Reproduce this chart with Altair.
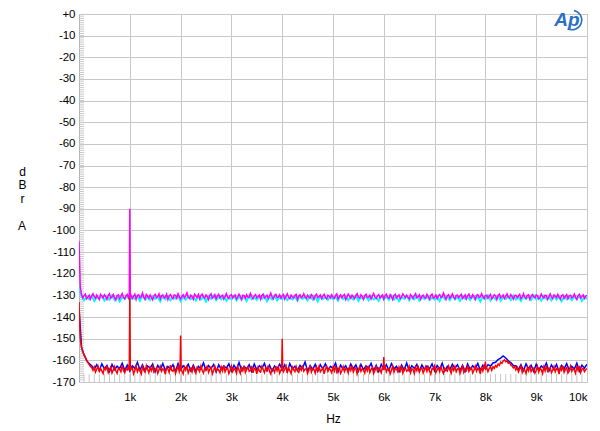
import altair as alt
import pandas as pd

# frequency grids (Hz): 25 Hz for the magenta/red traces, 50 Hz for cyan/blue
freqs_fine = list(range(0, 10001, 25))
freqs = list(range(0, 10001, 50))

magenta = [-105.0,
    -126.0, -129.6, -131.2, -130.1, -129.4, -131.5, -130.8, -129.9, -131.7, -130.3, -129.2, -130.6, -131.4, -129.8, -130.9, -131.9, -129.5, -130.2, -131.1, -129.7,
    -130.5, -131.8, -130.0, -129.3, -131.3, -130.7, -129.6, -131.0, -132.1, -130.2, -129.8, -131.5, -130.4, -129.1, -130.9, -131.6, -130.1, -129.5, -131.2, -130.6,
    -129.9, -131.4, -130.3, -129.4, -131.8, -130.0, -129.7, -131.1, -130.6, -128.9, -130.8, -131.7, -129.6, -130.4, -131.3, -129.8, -130.9, -132.0, -130.2, -129.5,
    -131.0, -130.5, -129.3, -131.6, -130.1, -129.9, -131.2, -130.7, -129.4, -131.9, -130.3, -129.6, -130.8, -131.5, -129.8, -130.0, -131.3, -129.2, -130.6, -131.7,
    -130.4, -129.7, -131.1, -130.2, -128.8, -130.9, -131.4, -129.9, -130.5, -131.8, -129.5, -130.3, -131.0, -129.6, -131.6, -130.1, -129.4, -130.7, -131.2, -129.8,
    -130.6, -131.9, -130.0, -129.3, -131.3, -130.8, -129.7, -131.5, -130.2, -129.5, -131.1, -130.4, -129.9, -131.7, -130.6, -129.2, -130.9, -131.4, -130.0, -129.6,
    -131.2, -130.3, -129.8, -131.6, -130.7, -129.4, -130.5, -131.9, -129.9, -130.1, -131.3, -129.7, -130.8, -131.0, -129.1, -130.4, -131.5, -130.2, -129.6, -131.1,
    -130.5, -129.8, -131.8, -130.0, -129.4, -131.2, -130.6, -129.9, -131.4, -130.3, -128.9, -130.7, -131.6, -130.1, -129.5, -131.0, -130.8, -129.7, -131.3, -130.2,
    -129.6, -131.7, -130.4, -129.3, -130.9, -131.5, -129.8, -130.6, -131.2, -130.0, -129.5, -131.9, -130.3, -129.7, -131.1, -130.5, -129.2, -130.8, -131.4, -129.9,
    -130.7, -131.3, -129.6, -130.2, -131.8, -130.1, -129.4, -131.0, -130.6, -129.8, -131.5, -130.3, -129.5, -130.9, -131.6, -129.9, -130.4, -131.2, -129.7, -130.8,
    -131.4, -130.0, -129.3, -131.7, -130.5, -129.8, -131.1, -130.2, -129.6, -131.9, -130.7, -129.4, -130.3, -131.3, -129.9, -130.6, -131.5, -130.1, -129.2, -130.9,
    -131.2, -129.7, -130.4, -131.8, -130.0, -129.5, -131.0, -130.8, -129.9, -131.6, -130.3, -129.1, -130.7, -131.4, -130.2, -129.6, -131.1, -130.5, -129.8, -131.7,
    -130.1, -129.4, -130.9, -131.3, -129.7, -130.6, -131.9, -130.0, -129.5, -131.2, -130.4, -129.8, -131.5, -130.7, -129.3, -130.2, -131.0, -129.9, -130.8, -131.6,
    -129.6, -130.3, -131.4, -130.1, -129.2, -131.1, -130.6, -129.7, -131.8, -130.4, -129.9, -130.9, -131.3, -129.5, -130.5, -131.7, -130.0, -129.4, -131.2, -130.8,
    -129.8, -131.5, -130.2, -129.6, -131.0, -130.7, -128.9, -130.4, -131.9, -130.1, -129.7, -131.3, -130.5, -129.3, -130.8, -131.6, -130.0, -129.9, -131.1, -130.3,
    -129.5, -131.4, -130.6, -129.8, -131.7, -130.2, -129.4, -130.9, -131.2, -129.7, -130.4, -131.8, -130.0, -129.6, -131.0, -130.7, -129.2, -130.5, -131.5, -130.1,
    -129.9, -131.3, -130.3, -129.5, -131.6, -130.8, -129.7, -130.2, -131.9, -130.0, -129.4, -131.1, -130.6, -129.8, -131.4, -130.4, -129.3, -130.9, -131.2, -129.6,
    -130.5, -131.7, -130.1, -129.9, -131.0, -130.3, -129.5, -131.5, -130.7, -129.2, -130.8, -131.3, -130.0, -129.7, -131.8, -130.4, -129.6, -130.6, -131.1, -129.8,
    -130.2, -131.6, -130.9, -129.4, -130.5, -131.2, -129.9, -130.1, -131.9, -130.6, -129.3, -130.7, -131.4, -129.8, -130.3, -131.0, -129.5, -130.8, -131.7, -130.0,
    -129.7, -131.3, -130.4, -129.6, -131.5, -130.2, -129.9, -131.1, -130.6, -129.4, -130.9, -131.8, -130.1, -129.5, -131.2, -130.5, -129.8, -131.4, -130.3, -130.0]

red = [-133.0,
    -150.0, -154.0, -156.0, -157.5, -158.5, -160.0, -161.0, -162.0, -162.8, -163.3, -164.6, -163.1, -165.4, -164.0, -162.7, -165.0, -163.8, -164.9, -166.1, -163.5,
    -164.3, -162.5, -165.6, -164.1, -163.2, -165.9, -164.5, -162.9, -164.8, -166.0, -163.6, -164.2, -165.3, -162.3, -164.7, -165.8, -163.9, -164.4, -162.8, -165.1,
    -164.0, -163.4, -166.2, -164.6, -162.6, -165.2, -163.7, -164.9, -166.3, -163.0, -164.5, -165.5, -162.4, -164.1, -165.7, -163.3, -164.8, -162.9, -165.4, -164.2,
    -163.5, -166.0, -164.3, -162.7, -165.1, -163.9, -164.6, -166.4, -163.2, -164.0, -165.6, -162.2, -164.7, -165.0, -163.4, -166.1, -164.4, -162.8, -165.3, -163.8,
    -164.9, -166.2, -163.1, -164.5, -162.5, -165.8, -164.2, -163.6, -165.4, -162.9, -164.8, -166.0, -163.3, -164.1, -165.2, -162.6, -164.6, -165.9, -163.7, -164.3,
    -162.4, -165.5, -164.0, -163.2, -166.3, -164.7, -162.8, -165.0, -163.9, -164.4, -165.7, -163.0, -164.9, -162.3, -165.3, -164.1, -163.5, -166.1, -164.6, -162.7,
    -165.2, -163.8, -164.3, -165.9, -162.9, -164.5, -166.0, -163.4, -164.8, -162.5, -165.6, -164.2, -163.1, -165.1, -164.7, -162.6, -165.8, -163.6, -164.0, -166.2,
    -163.3, -164.9, -165.4, -162.8, -164.1, -165.7, -163.7, -164.6, -162.4, -165.0, -166.3, -163.9, -164.2, -165.5, -162.7, -164.8, -163.2, -165.9, -164.4, -163.0,
    -165.3, -164.0, -162.6, -165.8, -163.5, -164.7, -166.1, -163.1, -164.3, -165.2, -162.9, -164.9, -165.6, -163.4, -164.5, -162.3, -165.0, -164.1, -163.8, -166.0,
    -164.6, -162.5, -165.4, -163.9, -164.2, -165.9, -163.0, -164.8, -162.8, -165.3, -164.4, -163.6, -166.2, -164.0, -162.7, -165.1, -163.7, -164.5, -165.7, -163.2,
    -164.9, -162.4, -165.5, -164.3, -163.3, -166.0, -164.7, -162.9, -165.2, -163.8, -164.1, -165.8, -163.1, -164.6, -162.6, -165.4, -164.0, -163.5, -166.3, -164.4,
    -162.8, -165.1, -163.9, -164.5, -165.9, -163.2, -164.8, -162.5, -165.6, -164.2, -163.4, -166.1, -164.7, -162.9, -165.0, -163.6, -164.3, -165.7, -163.0, -164.9,
    -162.3, -165.3, -164.1, -163.7, -166.2, -164.6, -162.7, -165.5, -163.8, -164.0, -165.2, -163.1, -164.8, -162.6, -165.9, -164.3, -163.5, -165.0, -164.5, -162.8,
    -165.7, -163.9, -164.2, -166.0, -163.3, -164.7, -162.4, -165.4, -164.0, -163.6, -165.8, -164.4, -162.9, -165.1, -163.2, -164.9, -166.3, -163.8, -164.1, -162.5,
    -165.6, -164.3, -163.4, -165.2, -162.7, -164.8, -166.1, -163.7, -164.5, -165.0, -162.6, -164.2, -165.9, -163.1, -164.6, -162.9, -165.3, -164.0, -163.5, -166.0,
    -164.4, -162.8, -165.5, -163.9, -164.7, -162.4, -165.1, -164.1, -163.3, -165.8, -164.6, -162.7, -165.0, -163.6, -164.3, -166.2, -163.0, -164.9, -162.6, -164.2,
    -163.4, -165.2, -163.8, -162.9, -164.6, -163.0, -163.7, -162.4, -163.1, -161.7, -162.3, -160.9, -161.4, -160.3, -159.8, -160.6, -160.2, -161.3, -161.0, -162.1,
    -162.6, -163.5, -162.9, -164.4, -163.2, -165.3, -164.0, -162.7, -165.6, -163.9, -164.5, -166.0, -163.3, -164.8, -162.5, -165.2, -164.2, -163.6, -165.9, -164.7,
    -162.8, -165.4, -163.7, -164.3, -166.1, -163.1, -164.9, -162.4, -165.0, -164.1, -163.5, -165.7, -164.6, -162.9, -165.3, -163.8, -164.0, -166.3, -163.2, -164.5,
    -162.6, -165.5, -164.2, -163.4, -165.8, -164.8, -162.7, -165.1, -163.9, -164.4, -166.0, -163.0, -164.7, -162.5, -165.6, -164.1, -163.6, -165.2, -164.3, -163.8]

cyan = [-125.0,
    -130.4, -132.2, -130.6, -131.8, -130.1, -132.6, -130.9, -131.5, -130.3, -132.4, -130.7, -131.9, -130.0, -132.1, -130.5, -132.8, -130.8, -131.6, -130.2, -132.3,
    -130.6, -131.7, -130.4, -132.5, -130.1, -131.9, -130.9, -132.2, -130.3, -131.6, -130.7, -132.7, -130.0, -131.8, -130.5, -132.3, -130.8, -131.5, -130.2, -132.6,
    -130.5, -132.0, -130.3, -131.7, -130.8, -132.4, -130.1, -131.9, -130.6, -132.8, -130.4, -131.6, -130.0, -132.2, -130.7, -131.8, -130.3, -132.5, -130.9, -131.7,
    -130.2, -132.3, -130.6, -131.9, -130.4, -132.6, -130.0, -131.8, -130.8, -132.1, -130.5, -131.6, -130.2, -132.7, -130.7, -131.9, -130.1, -132.4, -130.6, -131.7,
    -130.3, -132.2, -130.9, -131.8, -130.4, -132.5, -130.1, -131.6, -130.7, -132.3, -130.0, -131.9, -130.5, -132.8, -130.3, -131.7, -130.8, -132.1, -130.2, -131.8,
    -130.6, -132.4, -130.0, -131.7, -130.7, -132.2, -130.4, -131.9, -130.1, -132.6, -130.8, -131.6, -130.3, -132.3, -130.5, -131.8, -130.9, -132.5, -130.2, -131.7,
    -130.6, -132.1, -130.0, -131.9, -130.4, -132.7, -130.8, -131.6, -130.2, -132.3, -130.5, -131.8, -130.1, -132.4, -130.7, -131.7, -130.3, -132.2, -130.9, -131.9,
    -130.4, -132.6, -130.0, -131.7, -130.6, -132.2, -130.2, -131.8, -130.8, -132.5, -130.3, -131.6, -130.7, -132.1, -130.1, -131.9, -130.5, -132.8, -130.4, -131.7,
    -130.0, -132.3, -130.6, -131.8, -130.2, -132.4, -130.9, -131.6, -130.4, -132.2, -130.1, -131.9, -130.7, -132.6, -130.3, -131.7, -130.5, -132.1, -130.0, -131.8,
    -130.8, -132.4, -130.2, -131.6, -130.6, -132.3, -130.1, -131.9, -130.5, -132.7, -130.3, -131.7, -130.9, -132.2, -130.4, -131.8, -130.0, -132.5, -130.6, -131.6]

blue = [-136.0, -154.0, -157.5, -160.0, -161.5, -162.5,
    -164.1, -162.0, -164.8, -161.6, -163.9, -162.4, -165.2, -161.9, -164.3, -162.7, -163.8, -161.3, -164.6, -162.2, -165.0, -162.5, -163.7, -160.9, -164.4, -162.1,
    -164.9, -162.6, -163.6, -161.7, -165.3, -162.3, -164.2, -161.5, -164.7, -162.8, -163.9, -162.0, -165.1, -161.4, -164.3, -162.5, -163.7, -161.8, -164.8, -162.2,
    -165.0, -162.7, -164.0, -161.2, -164.5, -162.4, -163.8, -161.9, -165.4, -162.1, -164.2, -162.6, -163.6, -161.6, -164.9, -162.3, -164.1, -161.0, -164.6, -162.8,
    -163.9, -162.0, -165.2, -161.7, -164.3, -162.5, -163.7, -161.4, -164.8, -162.2, -165.0, -162.6, -163.8, -161.8, -164.4, -162.1, -165.3, -161.5, -164.0, -162.7,
    -164.7, -162.3, -163.6, -160.8, -164.9, -162.4, -164.2, -161.9, -165.1, -162.0, -163.9, -161.6, -164.5, -162.8, -163.7, -161.3, -165.4, -162.2, -164.1, -162.5,
    -164.8, -161.7, -163.8, -162.1, -165.0, -161.9, -164.3, -162.6, -163.6, -161.4, -164.7, -162.3, -165.2, -161.8, -164.0, -162.0, -164.6, -161.5, -163.9, -162.7,
    -165.3, -162.2, -164.4, -161.2, -164.8, -162.5, -163.7, -161.9, -165.1, -162.1, -164.2, -162.6, -163.9, -161.6, -164.9, -162.4, -164.0, -161.3, -165.0, -162.8,
    -164.3, -161.8, -163.6, -162.0, -164.7, -162.3, -165.2, -161.7, -164.1, -162.5, -163.8, -161.4, -164.6, -162.2, -163.9, -162.0, -162.6, -161.2, -160.9, -159.6,
    -159.0, -158.0, -158.9, -160.2, -161.0, -162.4, -162.5, -164.2, -162.0, -164.8, -161.6, -163.9, -162.3, -165.1, -161.8, -164.4, -162.6, -163.7, -161.2, -164.9,
    -162.1, -164.2, -161.9, -165.3, -162.4, -163.8, -161.5, -164.6, -162.7, -164.0, -161.3, -165.0, -162.2, -163.6, -161.8]

# narrow spectral lines: frequency, peak level, floor level at the line
magenta_spike_f = [1000]
magenta_spike_db = [-90.0]
magenta_spike_base = [-130.5]
red_spike_f = [1000, 2000, 4000, 6000, 8000]
red_spike_db = [-131.0, -148.5, -150.0, -158.5, -160.5]
red_spike_base = [-164.5, -164.2, -164.4, -164.3, -163.8]

series_names = ["cyan", "blue", "magenta", "red"]
series_colors = ["#00ffff", "#0000ff", "#ff00ff", "#ff0000"]
series_widths = [2.0, 1.5, 1.5, 1.5]
series_freqs = [freqs, freqs, freqs_fine, freqs_fine]
series_values = [cyan, blue, magenta, red]
series_spikes = [([], [], []), ([], [], []),
                 (magenta_spike_f, magenta_spike_db, magenta_spike_base),
                 (red_spike_f, red_spike_db, red_spike_base)]

x_tick_values = [1000, 2000, 3000, 4000, 5000, 6000, 7000, 8000, 9000, 10000]
y_tick_values = list(range(-170, 1, 10))
x_minor = list(range(100, 10000, 100))
y_minor = list(range(-169, 0, 1))

for fr, v in zip(series_freqs, series_values):
    assert len(v) == len(fr), (len(v), len(fr))

rows = []
for name, fr, vals, (sf, sd, sb) in zip(series_names, series_freqs, series_values, series_spikes):
    for f, d in zip(fr, vals):
        if f in sf:
            continue
        rows.append({"f": f, "db": d, "s": name})
    for f, d, b in zip(sf, sd, sb):
        rows.append({"f": f - 10, "db": b, "s": name})
        rows.append({"f": f, "db": d, "s": name})
        rows.append({"f": f + 10, "db": b, "s": name})
df = pd.DataFrame(rows).sort_values(["s", "f"])

W, H = 508, 368
FONT = "Liberation Sans"

xscale = alt.Scale(domain=[0, 10000], nice=False, zero=False)
yscale = alt.Scale(domain=[-170, 0], nice=False, zero=False)

xaxis = alt.Axis(values=x_tick_values, labelExpr="datum.value / 1000 + 'k'",
                 grid=True, ticks=False, domain=False, labelFlush=True,
                 labelPadding=9, title="Hz", titlePadding=11)
yaxis = alt.Axis(values=y_tick_values,
                 labelExpr="datum.value == 0 ? '+0' : '' + datum.value",
                 grid=True, ticks=False, domain=False, labelPadding=4,
                 title=["d", "B", "r"], titleAngle=0, titleAlign="center",
                 titleBaseline="top", titleX=-57, titleY=152, titleLineHeight=13.5)

def X(field):
    return alt.X(field, type="quantitative", scale=xscale, axis=xaxis)

def Y(field):
    return alt.Y(field, type="quantitative", scale=yscale, axis=yaxis)

layers = []
for name, col, sw in zip(series_names, series_colors, series_widths):
    layers.append(
        alt.Chart(df).transform_filter(alt.datum.s == name)
        .mark_line(color=col, strokeWidth=sw, clip=True)
        .encode(x=X("f"), y=Y("db"), order="f:Q")
    )

xminor = alt.Chart(pd.DataFrame({"mx": x_minor})).mark_rule(color="#c8c8c8", strokeWidth=1).encode(
    x=X("mx"), y=alt.value(H), y2=alt.value(H - 8))
yminor = alt.Chart(pd.DataFrame({"my": y_minor})).mark_rule(color="#c8c8c8", strokeWidth=1).encode(
    y=Y("my"), x=alt.value(0), x2=alt.value(5))

unit_df = pd.DataFrame({"t": ["A"]})
unit_a = alt.Chart(unit_df).mark_text(
    font=FONT, fontSize=12, color="#000000", align="center", baseline="middle").encode(
    text="t:N", x=alt.value(-57), y=alt.value(212))

logo_df = pd.DataFrame({"t": ["Ap"]})
logo = alt.Chart(logo_df).mark_text(
    font=FONT, fontSize=19, fontStyle="italic", fontWeight="bold", color="#2a6fc4",
    align="center", baseline="middle").encode(
    text="t:N", x=alt.value(488), y=alt.value(6))
logo_arc = alt.Chart(logo_df).mark_arc(
    radius=10.5, radius2=9, theta=0.2, theta2=3.6, color="#2a6fc4").encode(
    x=alt.value(493), y=alt.value(6))

chart = alt.layer(xminor, yminor, *layers, unit_a, logo, logo_arc).properties(
    width=W, height=H,
    autosize=alt.AutoSizeParams(type="none"),
    padding={"left": 71, "top": 6, "right": 5, "bottom": 47},
).configure_view(stroke="#a8a8a8", strokeWidth=1).configure_axis(
    gridColor="#c8c8c8", gridWidth=1, labelFont=FONT, labelFontSize=11.5,
    labelColor="#000000", titleFont=FONT, titleFontSize=12, titleFontWeight="normal",
    titleColor="#000000")

chart.save("out.html", embed_options={"renderer": "svg", "actions": False})
